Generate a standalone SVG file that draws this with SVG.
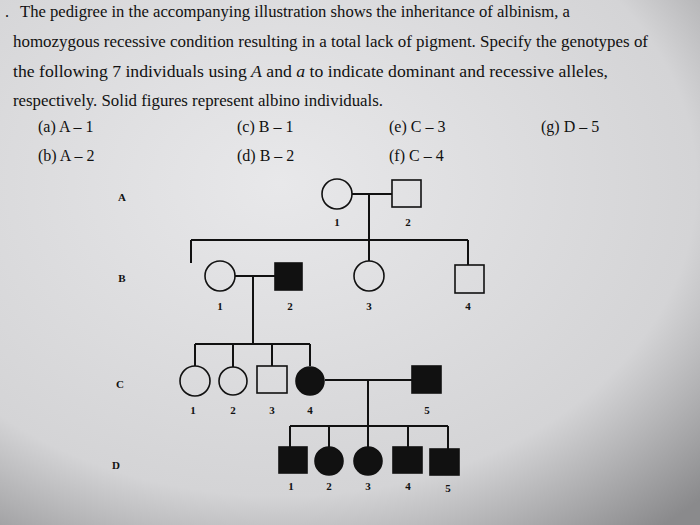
<svg xmlns="http://www.w3.org/2000/svg" width="700" height="525" viewBox="0 0 700 525">
<defs>
<radialGradient id="bg" cx="0.4" cy="0.35" r="0.85">
<stop offset="0" stop-color="#e8e8ea"/><stop offset="0.7" stop-color="#d4d4d6"/><stop offset="1" stop-color="#8a8a8c"/>
</radialGradient>
<style>
.t{font-family:"Liberation Serif",serif;font-size:16px;fill:#111}
.n{font-family:"Liberation Serif",serif;font-size:11px;font-weight:bold;fill:#111;text-anchor:middle}
.o{fill:none;stroke:#111;stroke-width:1.6}
.f{fill:#111;stroke:#111;stroke-width:1.6}
.l{fill:none;stroke:#111;stroke-width:2}
</style>
</defs>
<rect width="700" height="525" fill="url(#bg)"/>
<g id="text">
<text class="t" x="5" y="17">.</text>
<text class="t" x="20" y="17" textLength="550" lengthAdjust="spacingAndGlyphs">The pedigree in the accompanying illustration shows the inheritance of albinism, a</text>
<text class="t" x="13" y="47" textLength="635" lengthAdjust="spacingAndGlyphs">homozygous recessive condition resulting in a total lack of pigment. Specify the genotypes of</text>
<text class="t" x="13" y="77" textLength="595" lengthAdjust="spacingAndGlyphs">the following 7 individuals using <tspan font-style="italic">A</tspan> and <tspan font-style="italic">a</tspan> to indicate dominant and recessive alleles,</text>
<text class="t" x="13" y="106" textLength="370" lengthAdjust="spacingAndGlyphs">respectively. Solid figures represent albino individuals.</text>
<text class="t" x="38" y="132">(a) A – 1</text>
<text class="t" x="237" y="132">(c) B – 1</text>
<text class="t" x="389" y="132">(e) C – 3</text>
<text class="t" x="541" y="132">(g) D – 5</text>
<text class="t" x="38" y="161">(b) A – 2</text>
<text class="t" x="237" y="161">(d) B – 2</text>
<text class="t" x="389" y="161">(f) C – 4</text>
<text class="n" x="122" y="201">A</text>
<text class="n" x="122" y="282">B</text>
<text class="n" x="120" y="388">C</text>
<text class="n" x="116" y="469">D</text>
</g>
<g id="connectors">
<path class="l" d="M352 194H392M369 194V240M191 240H468M191 240V263M369 240V261M468 240V265"/>
<path class="l" d="M235 276H275M253 276V344M195 344H310M195 344V366M233 344V367M272 344V366M310 344V366"/>
<path class="l" d="M325 380H412M368 380V426M290 426H448M290 426V447M329 426V447M368 426V447M408 426V447M448 426V449"/>
</g>
<g id="A1"><circle class="o" cx="337" cy="194" r="15"/><text class="n" x="337" y="226">1</text></g>
<g id="A2"><rect class="o" x="392" y="180" width="29" height="27"/><text class="n" x="408" y="226">2</text></g>
<g id="B1"><circle class="o" cx="220" cy="276" r="15"/><text class="n" x="220" y="310">1</text></g>
<g id="B2"><rect class="f" x="275" y="263" width="27" height="27"/><text class="n" x="290" y="310">2</text></g>
<g id="B3"><circle class="o" cx="369" cy="276" r="15"/><text class="n" x="369" y="310">3</text></g>
<g id="B4"><rect class="o" x="455" y="265" width="29" height="28"/><text class="n" x="468" y="310">4</text></g>
<g id="C1"><circle class="o" cx="195" cy="381" r="15"/><text class="n" x="193" y="414">1</text></g>
<g id="C2"><circle class="o" cx="233" cy="381" r="14"/><text class="n" x="233" y="414">2</text></g>
<g id="C3"><rect class="o" x="257" y="366" width="30" height="27"/><text class="n" x="272" y="414">3</text></g>
<g id="C4"><circle class="f" cx="310" cy="381" r="14"/><text class="n" x="310" y="414">4</text></g>
<g id="C5"><rect class="f" x="412" y="366" width="29" height="27"/><text class="n" x="427" y="414">5</text></g>
<g id="D1"><rect class="f" x="279" y="447" width="28" height="26"/><text class="n" x="291" y="490">1</text></g>
<g id="D2"><circle class="f" cx="329" cy="461" r="14"/><text class="n" x="329" y="490">2</text></g>
<g id="D3"><circle class="f" cx="368" cy="461" r="14"/><text class="n" x="368" y="490">3</text></g>
<g id="D4"><rect class="f" x="393" y="447" width="29" height="26"/><text class="n" x="408" y="490">4</text></g>
<g id="D5"><rect class="f" x="430" y="449" width="29" height="26"/><text class="n" x="448" y="492">5</text></g>
</svg>
